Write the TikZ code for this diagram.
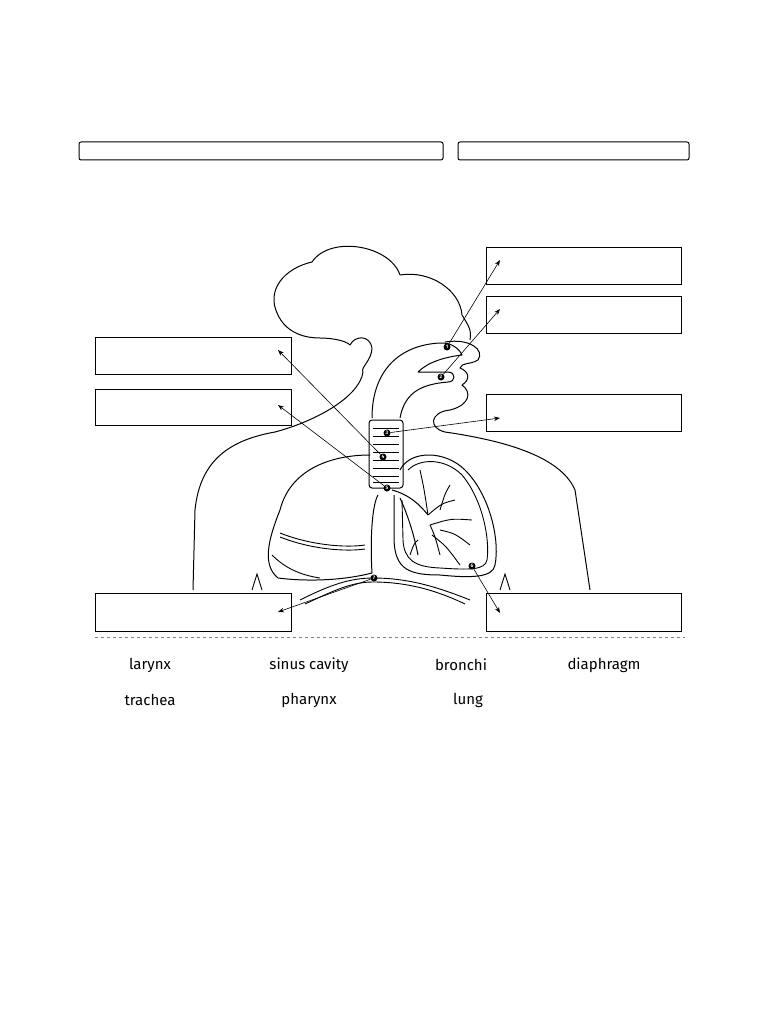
\documentclass[tikz,border=0pt]{standalone}
\usepackage{fontspec}
\setmainfont{Fira Sans}
\usetikzlibrary{arrows.meta}
\begin{document}
\begin{tikzpicture}[x=1pt,y=-1pt,
  lbox/.style={draw,line width=0.8pt},
  hbox/.style={draw,line width=1pt,rounded corners=2pt},
  body/.style={draw,line width=1pt,line join=round},
  dotn/.style={circle,fill=black,inner sep=0pt,minimum size=7pt,text=white,font=\fontsize{5}{5}\selectfont\bfseries},
  lab/.style={-{Stealth[length=6pt]},line width=0.6pt},
  word/.style={font=\fontsize{15}{17}\selectfont}]
\useasboundingbox (0,0) rectangle (768,1024);
% header boxes
\draw[hbox] (79,142) rectangle (443,160);
\draw[hbox] (458,142) rectangle (689,160);
% label boxes
\node[lbox,minimum width=196pt,minimum height=37pt] (b4) at (193,356) {};
\node[lbox,minimum width=196pt,minimum height=36pt] (b5) at (193,407) {};
\node[lbox,minimum width=195pt,minimum height=37pt] (b1) at (584,266) {};
\node[lbox,minimum width=195pt,minimum height=37pt] (b2) at (584,315) {};
\node[lbox,minimum width=195pt,minimum height=37pt] (b3) at (584,413) {};
\node[lbox,minimum width=196pt,minimum height=38pt] (b7) at (193,612) {};
\node[lbox,minimum width=195pt,minimum height=38pt] (b6) at (584,612) {};
% body outline
\draw[body] (400,275) .. controls (390,245) and (330,235) .. (312,262)
  .. controls (285,268) and (265,290) .. (278,315)
  .. controls (285,330) and (300,338) .. (320,338)
  .. controls (330,338) and (345,340) .. (350,345)
  .. controls (355,335) and (370,335) .. (372,348)
  .. controls (372,360) and (360,368) .. (363,372)
  .. controls (360,395) and (320,420) .. (275,432)
  .. controls (230,440) and (200,460) .. (195,510) -- (193,590);
\draw[body] (400,275) .. controls (430,270) and (460,290) .. (462,315)
  .. controls (468,325) and (472,330) .. (470,340);
% face
\draw[body] (445,342) .. controls (470,338) and (485,350) .. (478,360)
  .. controls (470,365) and (462,362) .. (460,368)
  .. controls (470,372) and (470,380) .. (462,385)
  .. controls (472,392) and (470,405) .. (450,410)
  .. controls (430,412) and (428,428) .. (445,432)
  .. controls (500,440) and (560,455) .. (575,490) -- (590,590);
% airway tube
\draw[body] (372,418) .. controls (372,370) and (400,345) .. (440,343)
  .. controls (452,342) and (460,350) .. (462,355)
  .. controls (445,357) and (428,362) .. (418,372) -- (448,372)
  .. controls (456,372) and (456,382) .. (448,382)
  .. controls (425,384) and (405,390) .. (400,418);
% trachea
\draw[body,rounded corners=3pt] (369,420) rectangle (403,488);
\foreach \y in {428,436,444,452,460,468,476,482} \draw[line width=0.9pt] (373,\y) -- (399,\y);
% left lung
\draw[body] (370,455) .. controls (330,455) and (290,470) .. (280,510)
  .. controls (268,540) and (262,565) .. (278,578)
  .. controls (310,582) and (345,580) .. (372,573)
  .. controls (370,540) and (372,505) .. (378,495);
\draw[line width=0.9pt] (280,533) .. controls (310,545) and (345,548) .. (365,545);
\draw[line width=0.9pt] (280,537) .. controls (310,549) and (345,552) .. (365,549);
\draw[line width=0.9pt] (272,555) .. controls (285,568) and (300,575) .. (320,578);
% right lung
\draw[body] (400,470) .. controls (410,450) and (445,450) .. (465,470)
  .. controls (490,495) and (500,540) .. (495,565)
  .. controls (493,578) and (470,578) .. (440,575)
  .. controls (410,575) and (395,570) .. (394,540) -- (394,495);
\draw[line width=0.9pt] (408,470) .. controls (420,458) and (445,458) .. (462,475)
  .. controls (483,500) and (490,540) .. (487,560)
  .. controls (485,570) and (470,570) .. (440,568)
  .. controls (415,567) and (404,560) .. (403,540) -- (402,500);
% bronchi tree
\draw[line width=1pt] (392,490) .. controls (410,495) and (420,505) .. (428,515);
\draw[line width=1pt] (400,498) .. controls (410,520) and (415,540) .. (418,555);
\foreach \a/\b/\c/\d in {428/515/420/470, 428/515/455/500, 430/525/472/520, 430/525/440/555, 440/530/470/545, 432/535/460/565, 418/540/410/555, 440/510/450/485}
  \draw[line width=0.9pt] (\a,\b) .. controls (\c/2+\a/2,\b/2+\d/2-4) .. (\c,\d);
% diaphragm
\draw[line width=0.9pt] (300,600) .. controls (330,585) and (350,578) .. (373,578) .. controls (410,578) and (440,588) .. (470,600);
\draw[line width=0.9pt] (305,604) .. controls (335,590) and (352,582) .. (373,582) .. controls (410,582) and (440,592) .. (465,604);
\draw[line width=0.9pt] (252,590) -- (257,574) -- (262,590);
\draw[line width=0.9pt] (500,590) -- (505,574) -- (510,590);
% numbered dots
\node[dotn] (d1) at (447,347) {1};
\node[dotn] (d2) at (441,377) {2};
\node[dotn] (d3) at (387,433) {3};
\node[dotn] (d4) at (383,457) {4};
\node[dotn] (d5) at (387,488) {5};
\node[dotn] (d6) at (472,566) {6};
\node[dotn] (d7) at (374,578) {7};
\coordinate (t1) at (500,260); \coordinate (t2) at (500,309);
\coordinate (t3) at (500,418); \coordinate (t4) at (278,350);
\coordinate (t5) at (278,405); \coordinate (t6) at (500,613);
\coordinate (t7) at (278,612);
\foreach \i in {1,...,7} \draw[lab] (d\i) -- (t\i);
% dashed separator
\draw[dashed,gray,line width=0.8pt] (95,637) -- (685,637);
% word bank
\node[word] (w1) at (150,665) {larynx};
\node[word] (w2) at (309,665) {sinus cavity};
\node[word] (w3) at (461,665) {bronchi};
\node[word] (w4) at (604,665) {diaphragm};
\node[word] (w5) at (150,700) {trachea};
\node[word] (w6) at (309,700) {pharynx};
\node[word] (w7) at (468,700) {lung};
\end{tikzpicture}
\end{document}
